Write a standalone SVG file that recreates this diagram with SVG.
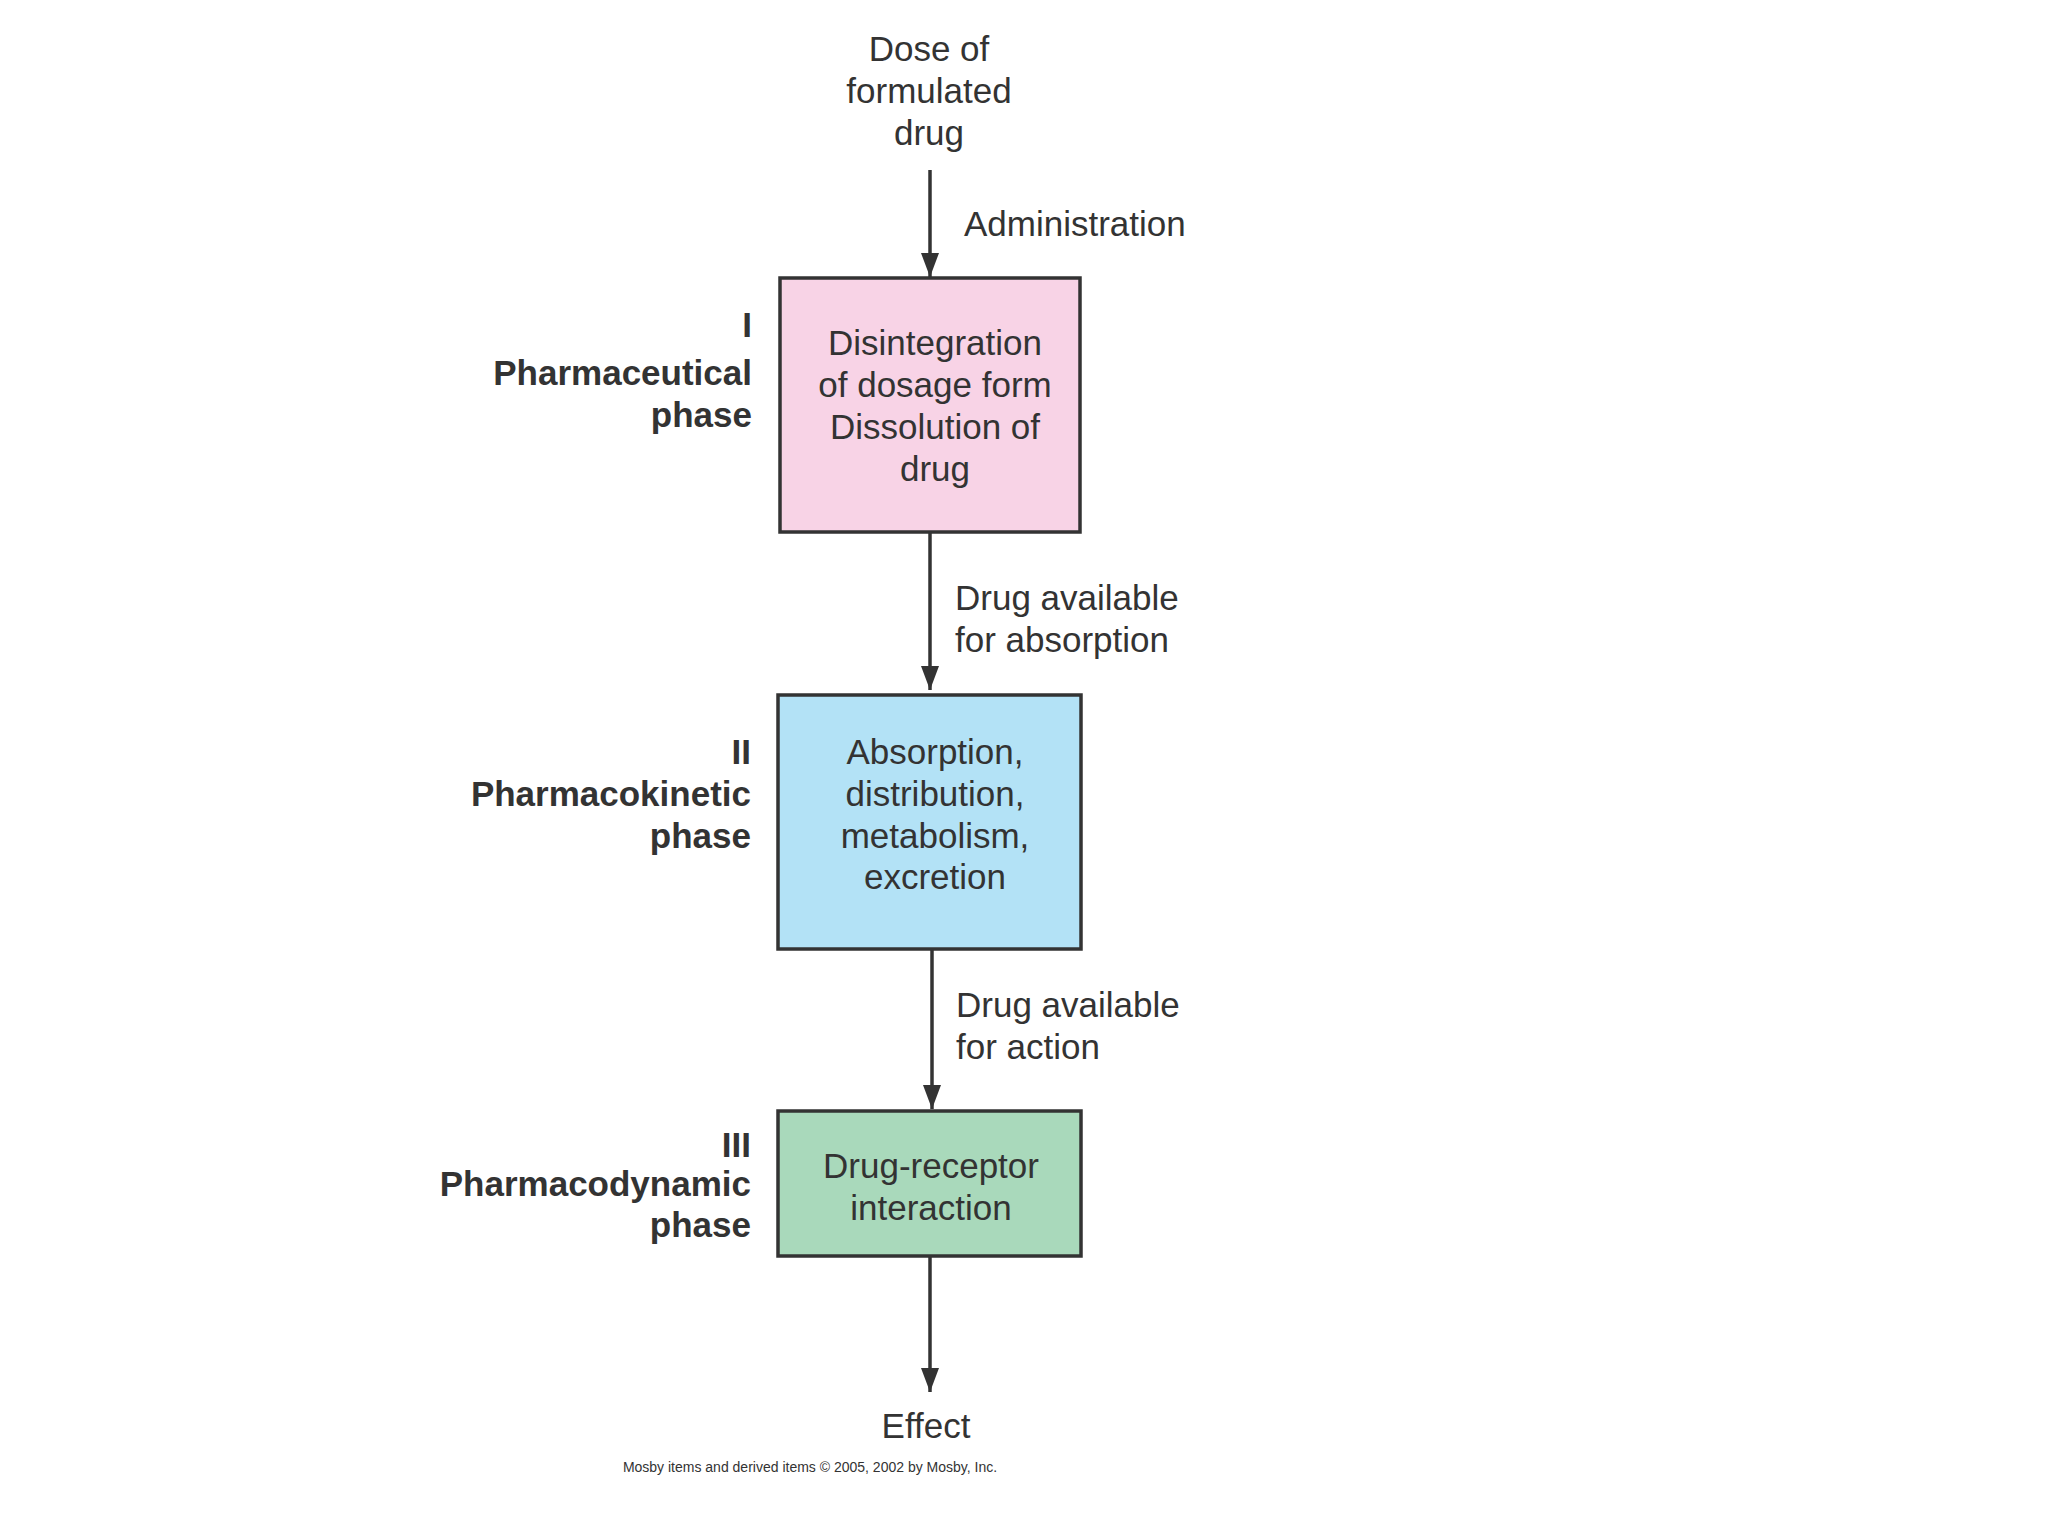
<svg xmlns="http://www.w3.org/2000/svg" width="2048" height="1536" viewBox="0 0 2048 1536">
<style>
text{font-family:"Liberation Sans",Arial,sans-serif;fill:#333;font-size:35px}
.c{text-anchor:middle}.r{text-anchor:end;font-weight:bold}
.box{stroke:#333;stroke-width:3.5}
.ln{stroke:#333;stroke-width:3.5;fill:none}
</style>
<defs><marker id="a" markerWidth="8" markerHeight="12" refX="8" refY="6" orient="auto" markerUnits="userSpaceOnUse" viewBox="0 0 8 12"><path d="M0,0L8,6L0,12z" fill="#333"/></marker>
<marker id="ah" viewBox="0 0 24 18" refX="24" refY="9" markerWidth="24" markerHeight="18" orient="auto" markerUnits="userSpaceOnUse"><path d="M0,0L24,9L0,18z" fill="#333"/></marker></defs>
<rect width="2048" height="1536" fill="#fff"/>
<g id="connectors">
<line class="ln" x1="930" y1="170" x2="930" y2="277" marker-end="url(#ah)"/>
<line class="ln" x1="930" y1="532" x2="930" y2="690" marker-end="url(#ah)"/>
<line class="ln" x1="932" y1="949" x2="932" y2="1109" marker-end="url(#ah)"/>
<line class="ln" x1="930" y1="1256" x2="930" y2="1392" marker-end="url(#ah)"/>
<text x="964" y="236">Administration</text>
<text x="955" y="610">Drug available</text><text x="955" y="652">for absorption</text>
<text x="956" y="1017">Drug available</text><text x="956" y="1059">for action</text>
</g>
<g id="dose"><text class="c" x="929" y="61">Dose of</text><text class="c" x="929" y="103">formulated</text><text class="c" x="929" y="145">drug</text></g>
<g id="phase1">
<rect class="box" x="780" y="278" width="300" height="254" fill="#f8d3e6"/>
<text class="c" x="935" y="355">Disintegration</text><text class="c" x="935" y="397">of dosage form</text><text class="c" x="935" y="439">Dissolution of</text><text class="c" x="935" y="481">drug</text>
<text class="r" x="752" y="337">I</text><text class="r" x="752" y="385">Pharmaceutical</text><text class="r" x="752" y="427">phase</text>
</g>
<g id="phase2">
<rect class="box" x="778" y="695" width="303" height="254" fill="#b3e2f6"/>
<text class="c" x="935" y="764">Absorption,</text><text class="c" x="935" y="806">distribution,</text><text class="c" x="935" y="848">metabolism,</text><text class="c" x="935" y="889">excretion</text>
<text class="r" x="751" y="764">II</text><text class="r" x="751" y="806">Pharmacokinetic</text><text class="r" x="751" y="848">phase</text>
</g>
<g id="phase3">
<rect class="box" x="778" y="1111" width="303" height="145" fill="#a9d9bb"/>
<text class="c" x="931" y="1178">Drug-receptor</text><text class="c" x="931" y="1220">interaction</text>
<text class="r" x="751" y="1157">III</text><text class="r" x="751" y="1196">Pharmacodynamic</text><text class="r" x="751" y="1237">phase</text>
</g>
<g id="effect"><text class="c" x="926" y="1438">Effect</text></g>
<text class="c" x="810" y="1472" style="font-size:14px">Mosby items and derived items © 2005, 2002 by Mosby, Inc.</text>
</svg>
